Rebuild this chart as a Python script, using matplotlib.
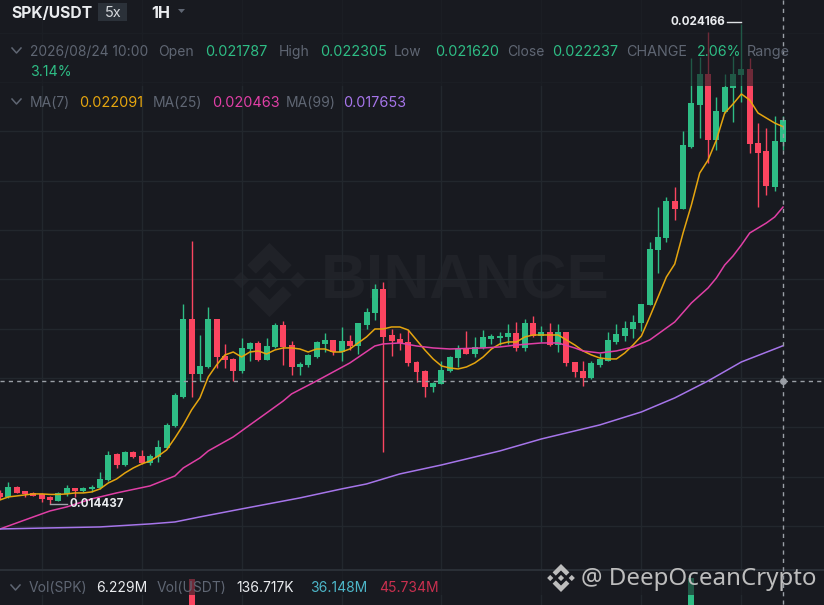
import numpy as np
import matplotlib
matplotlib.use("Agg")
import matplotlib.pyplot as plt
from matplotlib.patches import Polygon, Rectangle

plt.rcParams['font.family'] = ['Inter', 'DejaVu Sans']

# candles, prices in 1e-6 USDT
opens = [14670,14589,14791,14710,14670,14650,14589,14508,14650,14771,14710,14751,14771,14933,15460,15237,15501,15419,15278,15399,
         15582,16027,16615,18195,17081,17223,18195,17445,17385,17141,17587,17709,17364,17628,18074,17668,17223,17263,17425,17689,
         17770,17526,17749,17648,18074,18317,18803,17871,17790,17729,17324,17141,16817,16878,17141,17405,17587,17486,17608,17790,
         17810,17831,17912,17608,18114,17851,17932,17668,17932,17324,17141,17000,17263,17344,17729,17851,17992,18114,18479,19593,
         19836,20586,20424,21680,22531,23159,21822,22389,22875,23139,23260,21761,21599,20869,21787]
highs = [14731,14893,14812,14710,14690,14670,14609,14690,14832,14771,14791,14832,15095,15521,15480,15521,15521,15541,15460,15744,
         16088,16696,18499,19775,17871,18438,18195,17689,17405,17810,17729,17749,17810,18114,18155,17749,17324,17486,17749,17912,
         17770,18033,17871,18114,18418,18904,18945,17992,17912,17972,17344,17162,16919,17344,17445,17668,17952,17831,17972,17891,
         17932,18094,18134,18195,18256,18053,18114,18094,17932,17324,17344,17344,17506,17932,18094,18155,18276,18499,19755,20464,
         20667,20869,22004,23483,23503,24010,22693,23159,23523,24166,23483,22166,22065,22308,22305]
lows = [14549,14569,14670,14589,14609,14488,14437,14508,14609,14589,14690,14690,14751,14913,15176,15217,15379,15257,15237,15298,
        15582,16007,16595,16615,16939,17202,17202,17202,16939,17101,17344,17344,17364,17608,17263,17061,17061,17223,17405,17526,
        17466,17344,17567,17486,17992,18175,15501,17445,17567,17243,16919,16615,16716,16878,17121,17223,17486,17425,17587,17689,
        17668,17689,17547,17547,17831,17729,17648,17526,17243,17020,16838,16979,17223,17344,17689,17749,17810,17952,18479,19127,
        19755,20201,20424,21660,21862,21356,21619,22369,22186,22592,21558,20464,20707,20788,21620]
closes = [14589,14791,14670,14650,14609,14549,14528,14670,14771,14710,14771,14791,14953,15440,15237,15501,15399,15278,15419,15602,
          16048,16655,18195,17081,17243,18195,17425,17364,17141,17608,17709,17364,17648,18074,17628,17223,17283,17466,17729,17770,
          17526,17749,17648,18114,18337,18803,17831,17749,17709,17304,17121,16817,16898,17162,17425,17587,17486,17628,17831,17851,
          17851,17912,17608,18114,17851,17932,17668,17932,17304,17121,17000,17304,17385,17770,17891,18013,18134,18499,19613,19857,
          20586,20424,21720,22571,23159,21822,22409,22895,23159,23260,21741,21558,20890,21801,22237]

ma7 = [14528,14589,14609,14630,14650,14650,14640,14640,14650,14670,14670,14690,14751,14872,14953,15075,15176,15257,15318,15419,
       15541,15784,16048,16352,16595,17020,17263,17466,17526,17425,17526,17547,17486,17567,17608,17608,17587,17526,17587,17587,
       17526,17526,17587,17709,17831,17992,17992,18033,18033,17972,17770,17567,17385,17243,17202,17182,17223,17304,17425,17587,
       17689,17729,17729,17831,17871,17871,17871,17871,17770,17668,17547,17466,17405,17385,17385,17506,17668,17851,18236,18641,
       19046,19309,19937,20505,21153,21416,21822,22369,22551,22754,22632,22369,22267,22166,22091]

ma25_idx = [0,2,4,6,8,11,14,18,21,22,24,25,28,30,32,34,35,38,42,45,46,48,50,52,54,58,60,62,65,67,69,70,72,74,76,78,81,83,85,86,87,88,89,90,92,93,94]
ma25 = [13940,14062,14184,14305,14386,14549,14670,14812,15014,15176,15379,15521,15805,16048,16290,16534,16676,16939,17304,17648,17689,17709,17648,
        17608,17587,17608,17628,17668,17709,17709,17608,17547,17506,17547,17628,17770,18134,18519,18823,19026,19289,19472,19694,19937,20140,20262,20463]

ma99_idx = [0,6,12,18,21,24,29,36,41,44,48,53,60,65,72,77,81,85,89,94]
ma99 = [13940,13961,13981,14042,14082,14184,14346,14569,14751,14852,15055,15237,15521,15764,16048,16311,16595,16939,17324,17653]

# the only two volume bars tall enough to show
vol_idx = [23, 83]
vol_vals = [26, 27]
vol_colors = ['#fb4560', '#2ebd85']

crosshair_price = 0.016948

BG = '#181a20'
GRID = '#22272d'
GREEN = '#2ebd85'
RED = '#fb4560'
GRAY = '#5f6673'
WATERMARK = '#202228'

def to_price(v):
    return np.array(v) / 1e6

opens, highs, lows, closes = map(to_price, (opens, highs, lows, closes))
x = np.arange(len(opens))
up = closes >= opens
colors = np.where(up, GREEN, RED)

W, H = 824, 605
fig = plt.figure(figsize=(W / 100, H / 100), dpi=100, facecolor=BG)

# background layer in pixels, holds the watermark
ax_bg = fig.add_axes([0, 0, 1, 1], zorder=0)
ax_bg.set_xlim(0, W)
ax_bg.set_ylim(H, 0)
ax_bg.axis('off')

def binance_logo(ax, cx, cy, r, color, zorder=1):
    top = [(0, 1), (0.6, 0.4), (0.37, 0.17), (0, 0.54), (-0.37, 0.17), (-0.6, 0.4)]
    shapes = [top, [(a, -b) for a, b in top]]
    for c in (-0.77, 0, 0.77):
        shapes.append([(c, 0.22), (c + 0.22, 0), (c, -0.22), (c - 0.22, 0)])
    for s in shapes:
        pts = [(cx + a * r, cy - b * r) for a, b in s]
        ax.add_patch(Polygon(pts, closed=True, fc=color, ec='none', zorder=zorder))

binance_logo(ax_bg, 269.5, 280, 37, WATERMARK)
ax_bg.text(321, 282, 'BINANCE', color=WATERMARK, fontsize=45.6, fontweight='bold', va='center', ha='left',
           family=['Liberation Sans', 'DejaVu Sans'])

# main pane
ax = fig.add_axes([0, 35 / H, 1, 570 / H], zorder=1)
ax.patch.set_alpha(0)
ax.set_xlim(0, W / 8.33)
ax.set_ylim(0.024 - 537.5 / 49350, 0.024 + 32.5 / 49350)
for s in ax.spines.values():
    s.set_visible(False)
ax.set_xticks(np.arange(5, 95, 12))
ax.set_yticks(np.arange(0.014, 0.0245, 0.001))
ax.tick_params(length=0, labelbottom=False, labelleft=False)
ax.grid(True, color=GRID, lw=1)
ax.set_axisbelow(True)

ax.vlines(x, lows, highs, colors=colors, lw=1, zorder=2)
ax.bar(x, np.abs(closes - opens), bottom=np.minimum(opens, closes), width=0.72, color=colors, lw=0, zorder=3)

ax.plot(x, to_price(ma7), color='#e5a50f', lw=1.1, zorder=4)
ax.plot(ma25_idx, to_price(ma25), color='#e03fa6', lw=1.1, zorder=4)
ax.plot(ma99_idx, to_price(ma99), color='#a675ea', lw=1.1, zorder=4)

ax.axhline(crosshair_price, color='#9a9fa6', lw=1, dashes=(3, 3), zorder=5)
ax.plot([x[-1]], [crosshair_price], 'o', ms=4, color='#9a9ea5', zorder=6)

# volume pane
ax_vol = fig.add_axes([0, 0, 1, 35 / H], zorder=1)
ax_vol.patch.set_alpha(0)
ax_vol.set_xlim(0, W / 8.33)
ax_vol.set_ylim(0, 35)
for s in ax_vol.spines.values():
    s.set_visible(False)
ax_vol.set_xticks(np.arange(5, 95, 12))
ax_vol.set_yticks([])
ax_vol.tick_params(length=0, labelbottom=False)
ax_vol.grid(True, axis='x', color=GRID, lw=1)
ax_vol.set_axisbelow(True)
ax_vol.bar(vol_idx, vol_vals, width=0.72, color=vol_colors, lw=0, zorder=3)

# top layer in pixels: legend rows, dimming and crosshair
ov = fig.add_axes([0, 0, 1, 1], zorder=5)
ov.set_xlim(0, W)
ov.set_ylim(H, 0)
ov.axis('off')
ov.patch.set_alpha(0)

ov.add_patch(Rectangle((0, 0), W, 86, fc=BG, ec='none', alpha=0.62, zorder=1))
ov.add_patch(Rectangle((0, 570), W, 25, fc=BG, ec='none', alpha=0.62, zorder=1))
ov.plot([0, W], [570, 570], color='#2a2f36', lw=1.5, zorder=2)
ov.plot([783, 783], [0, H], color='#9a9fa6', lw=1, dashes=(3, 3), zorder=2)

# high / low markers sit above the dimming, placed on the price scale
ihi = int(np.argmax(highs))
ilo = int(np.argmin(lows))
ov.plot([ihi - 1.7, ihi], [highs[ihi] + 0.00004] * 2, color='#e0e2e6', lw=1, zorder=4, transform=ax.transData)
ov.text(ihi - 1.95, highs[ihi] + 0.00005, '%.6f' % highs[ihi], color='#eaecef', fontsize=8.4, fontweight='bold',
        ha='right', va='center', zorder=4, transform=ax.transData)
ov.plot([ilo, ilo + 2], [lows[ilo]] * 2, color='#a0a4aa', lw=1, zorder=4, transform=ax.transData)
ov.text(ilo + 2.3, lows[ilo], '%.6f' % lows[ilo], color='#eaecef', fontsize=8.3, fontweight='bold',
        ha='left', va='center', zorder=4, transform=ax.transData)

def label(px, py, s, color=GRAY, size=10, **kw):
    ov.text(px, py, s, color=color, fontsize=size, va='center', ha='left', zorder=3, **kw)

def chevron(px, py, w=9, h=5):
    ov.plot([px, px + w / 2, px + w], [py, py + h, py], color=GRAY, lw=1.1, zorder=3)

label(11, 14, 'SPK/USDT', '#eaecef', 11.3, fontweight='bold')
ov.add_patch(Rectangle((98, 3), 29, 18, fc='#2b3139', ec='none', zorder=2))
label(105, 13, '5x', '#d5d8dc', 10.5)
label(151, 14, '1H', '#eaecef', 11.6, fontweight='bold')
ov.add_patch(Polygon([(178, 9), (185, 9), (181.5, 13)], fc=GRAY, ec='none', zorder=3))

chevron(12, 48)
row1 = [(30, '2026/08/24 10:00', GRAY, 9.9), (158, 'Open', GRAY, 10), (205, '0.021787', GREEN, 10.4), (279, 'High', GRAY, 10),
        (320, '0.022305', GREEN, 10.4), (394, 'Low', GRAY, 10), (435, '0.021620', GREEN, 10.4), (507, 'Close', GRAY, 10),
        (552, '0.022237', GREEN, 10.4), (626, 'CHANGE', GRAY, 10.3), (697, '2.06%', GREEN, 10.2), (747, 'Range', GRAY, 10.3)]
for px, s, c, fs in row1:
    label(px, 52, s, c, fs)
label(30, 72, '3.14%', GREEN, 10.2)

chevron(12, 99)
row2 = [(30, 'MA(7)', GRAY, 10), (79, '0.022091', '#e5a50f', 10.4), (153, 'MA(25)', GRAY, 10), (212, '0.020463', '#e03fa6', 10.4),
        (286, 'MA(99)', GRAY, 10), (343, '0.017653', '#a675ea', 10.4)]
for px, s, c, fs in row2:
    label(px, 103, s, c, fs)

chevron(11, 585)
row3 = [(29, 'Vol(SPK)', GRAY), (96, '6.229M', '#eaecef'), (157, 'Vol(USDT)', GRAY), (236, '136.717K', '#eaecef'),
        (310, '36.148M', '#4db6c8'), (379, '45.734M', '#c9304f')]
for px, s, c in row3:
    label(px, 588, s, c)

binance_logo(ov, 561, 578, 14, '#bdbdbd', zorder=4)
ov.text(581, 579, '@ DeepOceanCrypto', color='#bdbdbd', fontsize=17.3, va='center', ha='left', zorder=4,
        family=['Noto Sans', 'DejaVu Sans'])

fig.savefig('out.png', dpi=100, facecolor=BG)
